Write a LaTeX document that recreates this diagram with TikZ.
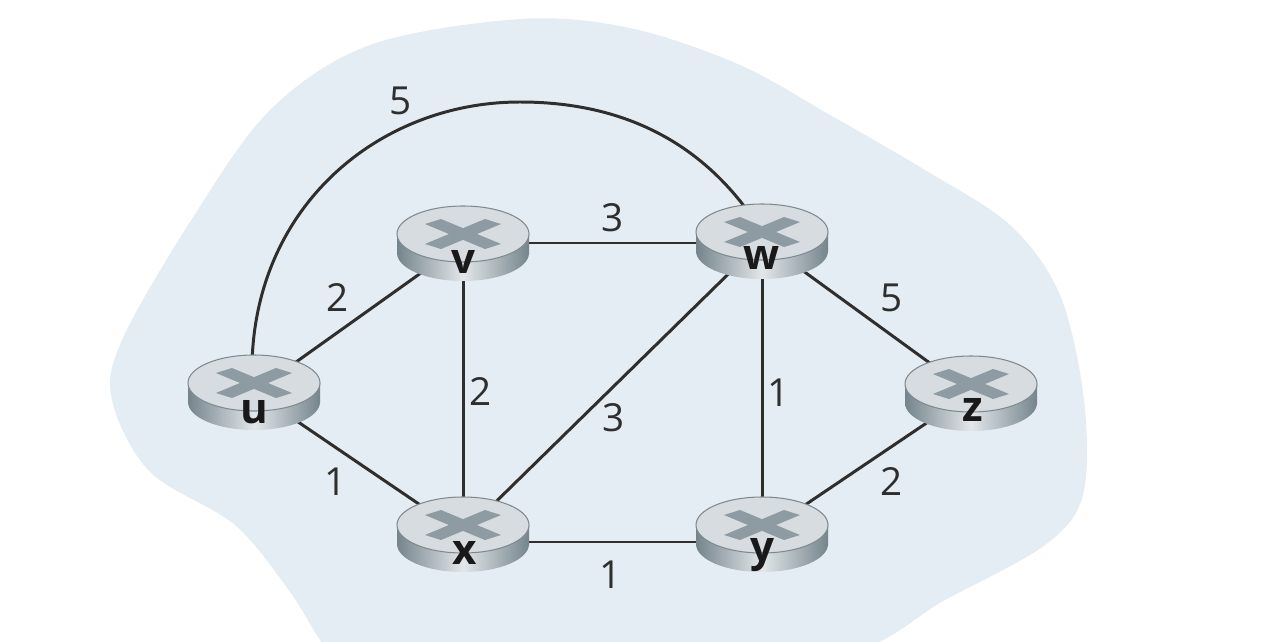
\documentclass[tikz,border=0pt]{standalone}
\usepackage{fontspec}
\setmainfont{Open Sans}
\usetikzlibrary{calc}
\definecolor{blob}{HTML}{E4EDF3}
\definecolor{rtop}{HTML}{D6DCDF}
\definecolor{rdark}{HTML}{75848C}
\definecolor{rlight}{HTML}{E2E7EA}
\definecolor{rcross}{HTML}{8E9BA3}
\definecolor{rline}{HTML}{7F8A90}
\definecolor{link}{HTML}{2E2E2E}
\tikzset{
  routerbox/.style={minimum width=2.64cm,minimum height=1.5cm,inner sep=0pt},
  linkline/.style={draw=link,line width=1.7pt},
  cost/.style={font=\fontsize{22}{24}\selectfont,text=link,inner sep=0pt},
  rname/.style={font=\bfseries\fontsize{24}{24}\selectfont,text=black!90,inner sep=0pt},
  rside/.style={left color=rdark,right color=rdark,middle color=rlight,draw=none},
}
\newcommand{\routeranchor}[3]{\node[routerbox] (#1) at (#2,#3) {};}
\newcommand{\routerdraw}[4]{%
  \begin{scope}[shift={(#2,#3)}]
    \shade[rside] (-66,-9) rectangle (66,10);
    \shade[rside] (0,10) circle [x radius=66,y radius=28];
    \fill[rtop] (0,-9) circle [x radius=66,y radius=28];
    \draw[rline,line width=0.6pt] (0,-9) circle [x radius=66,y radius=28];
    \fill[rcross] (-38,-19) -- (-22,-24) -- (38,1) -- (22,6) -- cycle;
    \fill[rcross] (38,-19) -- (22,-24) -- (-38,1) -- (-22,6) -- cycle;
    \node[rname] (#1label) at (#4) {\MakeLowercase{#1}};
  \end{scope}}
\begin{document}
\begin{tikzpicture}[x=0.02cm,y=-0.02cm]
\useasboundingbox (0,0) rectangle (1284,642);
\fill[blob] plot[smooth cycle,tension=0.55] coordinates {
  (520,19) (630,28) (740,65) (830,115) (925,170) (1010,225) (1060,295) (1084,400)
  (1083,495) (1045,545) (945,600) (840,655) (600,670) (345,670) (320,640) (290,592) (235,525) (150,472)
  (112,400) (122,340) (190,222) (270,110) (370,45)};
\routeranchor{u}{254}{392}
\routeranchor{v}{463}{243}
\routeranchor{w}{762}{241}
\routeranchor{z}{971}{393}
\routeranchor{x}{463}{534}
\routeranchor{y}{762}{534}
\coordinate (uwstart) at (252,365);
\coordinate (uwend) at (747,210);
\coordinate (xyleft) at ($(x.center)+(0,8)$);
\coordinate (xyright) at ($(y.center)+(0,8)$);
\draw[linkline] (uwstart) .. controls (255,205) and (380,102) .. (520,102)
  .. controls (620,102) and (695,140) .. (uwend);
\draw[linkline] (u.center) -- (v.center);
\draw[linkline] (u.center) -- (x.center);
\draw[linkline] (v.center) -- (v.center -| w.center);
\draw[linkline] (v.center) -- (x.center);
\draw[linkline] (x.center) -- (w.center);
\draw[linkline] (w.center) -- (y.center);
\draw[linkline] (w.center) -- (z.center);
\draw[linkline] (y.center) -- (z.center);
\draw[linkline] (xyleft) -- (xyright);
\routerdraw{u}{254}{392}{0,20}
\routerdraw{v}{463}{243}{0,19}
\routerdraw{w}{762}{241}{0,17}
\routerdraw{z}{971}{393}{2,17}
\routerdraw{x}{463}{534}{2,19}
\routerdraw{y}{762}{534}{0,21}
\node[cost] (c1) at (401,101) {5};
\node[cost] (c2) at (338,298) {2};
\node[cost] (c3) at (613,218) {3};
\node[cost] (c4) at (481,392) {2};
\node[cost] (c5) at (614,418) {3};
\node[cost] (c6) at (336,482) {1};
\node[cost] (c7) at (892,298) {5};
\node[cost] (c8) at (779,393) {1};
\node[cost] (c9) at (892,482) {2};
\node[cost] (c10) at (611,575) {1};
\end{tikzpicture}
\end{document}
